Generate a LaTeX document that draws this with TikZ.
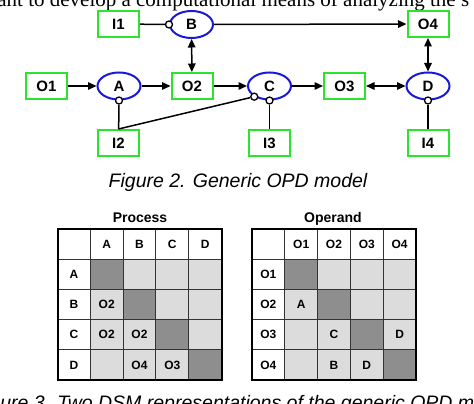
\documentclass[tikz,border=0pt]{standalone}
\usepackage{fontspec}
\setmainfont{Liberation Serif}
\setsansfont{Liberation Sans}
\usetikzlibrary{arrows.meta,shapes.geometric}
\definecolor{objgreen}{RGB}{45,228,45}
\definecolor{procblue}{RGB}{25,25,215}
\definecolor{celllight}{RGB}{220,220,220}
\definecolor{celldark}{RGB}{142,142,142}
\begin{document}
\begin{tikzpicture}[x=1pt,y=-1pt,
  object/.style={draw=objgreen,line width=2pt,minimum width=41pt,minimum height=26pt,inner sep=0pt,font=\sffamily\bfseries\fontsize{15}{18}\selectfont},
  process/.style={ellipse,draw=procblue,line width=2pt,minimum width=43pt,minimum height=27pt,inner sep=0pt,font=\sffamily\bfseries\fontsize{15}{18}\selectfont},
  link/.style={line width=1.5pt,-{Triangle[length=8.5pt,width=7.5pt]}},
  twolink/.style={line width=1.5pt,{Triangle[length=8.5pt,width=7.5pt]}-{Triangle[length=8.5pt,width=7.5pt]}},
  agent/.style={line width=1.5pt},
  knob/.style={circle,draw,line width=1.3pt,fill=white,inner sep=0pt,minimum size=7pt},
  cell/.style={font=\sffamily\bfseries\fontsize{12}{14}\selectfont},
  caption/.style={font=\sffamily\itshape\fontsize{19.5}{22}\selectfont,inner sep=0pt}]
\useasboundingbox (0,0) rectangle (474,404);
\clip (0,0) rectangle (474,404);
% text of the page round the figures
\node[anchor=base west,inner sep=0pt,font=\fontsize{21}{24}\selectfont] (prose) at (-18,6.5) {want to develop a computational means of analyzing the s};
\node[caption,anchor=base] (cap2) at (238,187) {Figure 2. Generic OPD model};
\node[caption,anchor=base west] (cap3) at (-27,409) {Figure 3. Two DSM representations of the generic OPD model};
% OPD model
\node[object] (i1) at (118.5,24) {I1};
\node[process] (b) at (191.5,24.5) {B};
\node[object] (o4) at (428,24) {O4};
\node[object] (o1) at (46.5,86) {O1};
\node[process] (a) at (119,86) {A};
\node[object] (o2) at (192,86) {O2};
\node[process] (c) at (269.5,86) {C};
\node[object] (o3) at (344.5,86) {O3};
\node[process] (d) at (428,86) {D};
\node[object] (i2) at (118.5,143) {I2};
\node[object] (i3) at (269.5,143) {I3};
\node[object] (i4) at (428,143) {I4};
\draw[link] (o1) -- (a);
\draw[link] (a) -- (o2);
\draw[link] (o2) -- (c);
\draw[link] (c) -- (o3);
\draw[twolink] (o3) -- (d);
\draw[twolink] (b) -- (o2);
\draw[twolink] (o4) -- (d);
\draw[link] (b) -- (o4);
\node[knob] (kb) at (b.west) {};
\node[knob] (ka) at (a.south) {};
\node[knob] (kc) at (c.south) {};
\node[knob] (kc2) at (c.215) {};
\node[knob] (kd) at (d.south) {};
\draw[agent] (i1) -- (kb);
\draw[agent] (i2) -- (ka);
\draw[agent] (i2.north) -- (kc2);
\draw[agent] (i3) -- (kc);
\draw[agent] (i4) -- (kd);
% process DSM
\node[font=\sffamily\bfseries\fontsize{14}{16}\selectfont,anchor=base] (ptitle) at (140,222.5) {Process};
\begin{scope}[shift={(57.5,229)},x=32.8pt,y=-30.2pt]
\fill[celllight] (1,1) rectangle (5,5);
\fill[celldark] (1,1) rectangle (2,2) (2,2) rectangle (3,3) (3,3) rectangle (4,4) (4,4) rectangle (5,5);
\draw[line width=0.9pt,black!80] (1,0) -- (1,5) (2,0) -- (2,5) (3,0) -- (3,5) (4,0) -- (4,5)
  (0,1) -- (5,1) (0,2) -- (5,2) (0,3) -- (5,3) (0,4) -- (5,4);
\draw[line width=2pt] (0,0) rectangle (5,5);
\node[cell] (pca) at (1.5,0.5) {A};
\node[cell] (pcb) at (2.5,0.5) {B};
\node[cell] (pcc) at (3.5,0.5) {C};
\node[cell] (pcd) at (4.5,0.5) {D};
\node[cell] (pra) at (0.5,1.5) {A};
\node[cell] (prb) at (0.5,2.5) {B};
\node[cell] (prc) at (0.5,3.5) {C};
\node[cell] (prd) at (0.5,4.5) {D};
\node[cell] (pba) at (1.5,2.5) {O2};
\node[cell] (pca2) at (1.5,3.5) {O2};
\node[cell] (pcb2) at (2.5,3.5) {O2};
\node[cell] (pdb) at (2.5,4.5) {O4};
\node[cell] (pdc) at (3.5,4.5) {O3};
\end{scope}
% operand DSM
\node[font=\sffamily\bfseries\fontsize{14}{16}\selectfont,anchor=base] (otitle) at (333,222.5) {Operand};
\begin{scope}[shift={(252,229)},x=32.8pt,y=-30.2pt]
\fill[celllight] (1,1) rectangle (5,5);
\fill[celldark] (1,1) rectangle (2,2) (2,2) rectangle (3,3) (3,3) rectangle (4,4) (4,4) rectangle (5,5);
\draw[line width=0.9pt,black!80] (1,0) -- (1,5) (2,0) -- (2,5) (3,0) -- (3,5) (4,0) -- (4,5)
  (0,1) -- (5,1) (0,2) -- (5,2) (0,3) -- (5,3) (0,4) -- (5,4);
\draw[line width=2pt] (0,0) rectangle (5,5);
\node[cell] (oc1) at (1.5,0.5) {O1};
\node[cell] (oc2) at (2.5,0.5) {O2};
\node[cell] (oc3) at (3.5,0.5) {O3};
\node[cell] (oc4) at (4.5,0.5) {O4};
\node[cell] (or1) at (0.5,1.5) {O1};
\node[cell] (or2) at (0.5,2.5) {O2};
\node[cell] (or3) at (0.5,3.5) {O3};
\node[cell] (or4) at (0.5,4.5) {O4};
\node[cell] (o21) at (1.5,2.5) {A};
\node[cell] (o32) at (2.5,3.5) {C};
\node[cell] (o34) at (4.5,3.5) {D};
\node[cell] (o42) at (2.5,4.5) {B};
\node[cell] (o43) at (3.5,4.5) {D};
\end{scope}
\end{tikzpicture}
\end{document}
